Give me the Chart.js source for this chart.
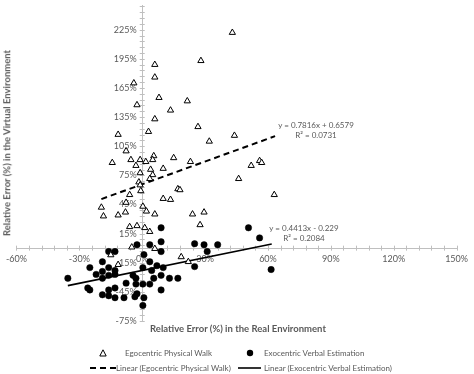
<!DOCTYPE html>
<html><head><meta charset="utf-8">
<script src="https://cdn.jsdelivr.net/npm/chart.js@4.4.1/dist/chart.umd.min.js"></script>
<style>
html,body{margin:0;padding:0;background:#fff;}
#wrap{position:relative;width:474px;height:374px;overflow:hidden;font-family:Lato,'Open Sans',sans-serif;}
canvas{position:absolute;left:0;top:0;}
.t{position:absolute;white-space:nowrap;color:#595959;line-height:1;}
.title{font-weight:bold;font-size:9.5px;transform:translate(-50%,-50%);}
.eq{font-size:8px;transform:translate(-50%,-50%);}
.lg{font-size:8px;transform:translateY(-50%);}
.mk{position:absolute;transform:translateY(-50%);}
</style></head><body>
<div id="wrap">
<canvas id="c" width="474" height="374"></canvas>
<div class="t title" style="left:238px;top:329px;">Relative Error (%) in the Real Environment</div>
<div class="t title" style="left:7px;top:143px;transform:translate(-50%,-50%) rotate(-90deg);">Relative Error (%) in the Virtual Environment</div>
<div class="t eq" style="left:316px;top:125px;">y = 0.7816x + 0.6579</div>
<div class="t eq" style="left:316px;top:135px;">R² = 0.0731</div>
<div class="t eq" style="left:304px;top:228px;">y = 0.4413x - 0.229</div>
<div class="t eq" style="left:304px;top:238px;">R² = 0.2084</div>
<svg class="mk" style="left:99px;top:353px;" width="8" height="8"><polygon points="4,0.8 7.2,7 0.8,7" fill="#fff" stroke="#000" stroke-width="1"/></svg>
<div class="t lg" style="left:125px;top:353px;">Egocentric Physical Walk</div>
<svg class="mk" style="left:246px;top:353px;" width="8" height="8"><circle cx="4" cy="4" r="3.2" fill="#000"/></svg>
<div class="t lg" style="left:264px;top:353px;">Exocentric Verbal Estimation</div>
<svg class="mk" style="left:90px;top:368px;" width="26" height="4"><line x1="0" y1="2" x2="26" y2="2" stroke="#000" stroke-width="2" stroke-dasharray="6,4"/></svg>
<div class="t lg" style="left:116px;top:368px;">Linear (Egocentric Physical Walk)</div>
<svg class="mk" style="left:238px;top:368px;" width="23" height="4"><line x1="0" y1="2" x2="23" y2="2" stroke="#000" stroke-width="1.6"/></svg>
<div class="t lg" style="left:264px;top:368px;">Linear (Exocentric Verbal Estimation)</div>
</div>
<script>
// ---- data (percent) ----
const egoX = [43,28,6,6,-4,8,21.5,-2.5,13.5,6,26.6,3,-11.5,44,32,-7.7,5.5,15,-5.4,-1,1.7,5,-14.3,23,-3,4,10,52,56,57,-1,5,3.6,46,-1.6,-1,-0.7,17,18,-6,10,13.5,-7.7,63,-19.5,0.3,2,-8,-18.5,-11.5,6,24,29.5,27.6,-6,-2.5,1.2,3.6,-5,6,-15,-11.5,18.6,22];
const egoY = [222,193,189,176,170,155,151.5,147.5,142,133,125,120,117,116,110,100,95,93,91,91,89,91,88,89,85,81,82,85,90,88,77.5,75.5,71.5,71.5,68,65,59,61,60,55,51,50,47,55,42,43,38,37,33,34,35,35,37,24,22,23,21,17,1,-0.5,-7,-17,-9,-14];
const exoX = [9,9,9,-2.5,3.6,-16,-13,0.8,25,29.5,36,31,50.7,56,61.5,25,-19,3.6,7,10,-25,-16,0.3,-19,-13,4.5,-13,-22,-16,-4.4,9,-35.5,-19,-3,5.5,13,17,-7.7,-3,0.3,3.6,-26,-25,-16,-13,9,-19,-16,-13,-8.7,-3.5,-2.5,0.8,0.3];
const exoY = [21,6.6,-3.5,3.5,3.5,-3.5,-3.5,-6.6,4.6,3.5,3.5,-3.5,21,10.6,-22,-19,-14,-14,-18,-20,-20,-20,-20,-24,-23,-23,-27,-27,-28,-28,-28,-31,-31,-31,-31,-31,-31,-36,-37,-37,-37,-41,-43,-43,-41,-43,-48,-49,-51,-51,-50,-47,-51,-59];
// trendlines (Excel linear fits, in fraction units) and their x extent (percent)
const egoTrend = [0.7816, 0.6579];
const exoTrend = [0.4413, -0.229];
const egoTrendX = [-19.5, 63.4];
const exoTrendX = [-35.5, 61.8];
// axis ticks
const xTickLabels = [-60,-30,0,30,60,90,120,150];
const yTickLabels = [-75,-45,-15,15,45,75,105,135,165,195,225];
const minorPerMajor = 5;

function minorTicks(majors, extraTop){
  const out=[]; const step=(majors[1]-majors[0])/minorPerMajor;
  for(let i=0;i<majors.length-1;i++) for(let k=0;k<minorPerMajor;k++) out.push(majors[i]+k*step);
  out.push(majors[majors.length-1]);
  if(extraTop){ let v=majors[majors.length-1]+step; while(v<=extraTop){out.push(v); v+=step;} }
  return out;
}
const xAll = minorTicks(xTickLabels);
const yAll = minorTicks(yTickLabels, 250);
const pts = (xs,ys)=>xs.map((x,i)=>({x, y:ys[i]}));
const trend = (t,xr)=>xr.map(x=>({x, y:(t[0]*x/100 + t[1])*100}));
const FONT = 'Lato';
const GRAY = '#595959';
const AX = '#bfbfbf';

const crossTicks = {
  id:'crossTicks',
  beforeDatasetsDraw(chart){
    const {ctx, scales:{x, y}} = chart;
    const x0 = x.getPixelForValue(0), y0 = y.getPixelForValue(0);
    ctx.save(); ctx.strokeStyle = AX; ctx.lineWidth = 1;
    ctx.beginPath();
    xAll.forEach(v=>{ const p=Math.round(x.getPixelForValue(v))+0.5; ctx.moveTo(p, y0-2.5); ctx.lineTo(p, y0+2.5); });
    yAll.forEach(v=>{ const p=Math.round(y.getPixelForValue(v))+0.5; ctx.moveTo(x0-2.5, p); ctx.lineTo(x0+2.5, p); });
    ctx.stroke(); ctx.restore();
  }
};

new Chart(document.getElementById('c'), {
  type:'scatter',
  data:{datasets:[
    {label:'Egocentric Physical Walk', data:pts(egoX,egoY), pointStyle:'triangle', radius:3.6, borderColor:'#000', backgroundColor:'#fff', borderWidth:1},
    {label:'Exocentric Verbal Estimation', data:pts(exoX,exoY), pointStyle:'circle', radius:3.2, borderColor:'#000', backgroundColor:'#000', borderWidth:0.5},
    {type:'line', label:'Linear (Egocentric Physical Walk)', data:trend(egoTrend,egoTrendX), borderColor:'#000', borderWidth:2, borderDash:[6,4], pointRadius:0, fill:false},
    {type:'line', label:'Linear (Exocentric Verbal Estimation)', data:trend(exoTrend,exoTrendX), borderColor:'#000', borderWidth:1.6, pointRadius:0, fill:false}
  ]},
  options:{
    responsive:false, animation:false,
    layout:{padding:{left:12, right:15, top:0, bottom:53}},
    plugins:{legend:{display:false}, tooltip:{enabled:false}},
    scales:{
      x:{type:'linear', min:-60, max:150, position:{y:0},
        afterBuildTicks:s=>{s.ticks = xAll.map(v=>({value:v}));},
        ticks:{autoSkip:false, maxRotation:0, padding:6, color:GRAY, font:{family:FONT,size:9},
          callback:v=>xTickLabels.includes(v)? v+'%' : ''},
        grid:{display:false, drawTicks:false}, border:{display:true, color:AX}},
      y:{type:'linear', min:-75, max:250, position:{x:0},
        afterBuildTicks:s=>{s.ticks = yAll.map(v=>({value:v}));},
        ticks:{autoSkip:false, padding:0, color:GRAY, font:{family:FONT,size:9},
          callback:v=>yTickLabels.includes(v)? v+'%\u2002\u2009' : ''},
        grid:{display:false, drawTicks:false}, border:{display:true, color:AX}}
    }
  },
  plugins:[crossTicks]
});
</script>
</body></html>
